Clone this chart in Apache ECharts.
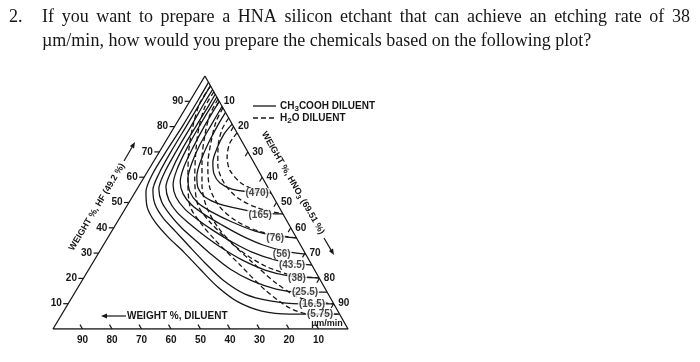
<!DOCTYPE html>
<html><head><meta charset="utf-8">
<script src="https://cdn.jsdelivr.net/npm/echarts@6/dist/echarts.min.js"></script>
<style>html,body{margin:0;padding:0;background:#fff}#c{width:700px;height:362px}</style>
</head><body><div id="c"></div>
<script>
// Ternary compositions: [HF %, HNO3 %]; diluent = 100 - HF - HNO3
const HF_TICKS = [10, 20, 30, 40, 50, 60, 70, 80, 90];
const HNO3_TICKS = [10, 20, 30, 40, 50, 60, 70, 80, 90];
const DILUENT_TICKS = [90, 80, 70, 60, 50, 40, 30, 20, 10];

const RATES = ['470', '165', '76', '56', '43.5', '38', '25.5', '16.5', '5.75'];
const RATE_LABEL_POS = [[53.8,41.5],[45.1,47.0],[36.0,56.8],[29.6,62.3],[25.3,68.0],[20.2,72.3],[14.6,77.9],[9.9,82.7],[5.9,87.5]];

// CH3COOH diluent (solid) isoetch curves
const CH3COOH_470 = [[81.0,19.0],[77.1,18.3],[71.5,18.8],[66.0,20.2],[61.3,23.0],[57.7,26.9],[55.3,32.2],[54.2,38.9],[53.8,46.2]];
const CH3COOH_165 = [[85.6,14.4],[80.6,14.4],[73.9,14.8],[66.8,15.8],[60.5,17.6],[55.7,20.5],[52.2,24.6],[49.4,31.1],[47.4,39.0],[45.8,47.2],[45.5,54.5]];
const CH3COOH_76 = [[88.0,12.0],[80.6,12.1],[72.7,12.3],[65.6,13.3],[59.7,15.0],[54.2,18.5],[49.8,23.5],[46.2,30.1],[42.3,38.9],[38.7,48.6],[36.8,56.6],[36.0,64.0]];
const CH3COOH_56 = [[90.0,10.0],[80.6,10.0],[71.9,10.5],[64.0,11.4],[58.1,13.2],[53.4,16.6],[49.0,21.8],[45.1,28.3],[41.1,36.1],[36.8,45.1],[33.2,54.1],[30.8,62.7],[29.6,70.4]];
const CH3COOH_43_5 = [[91.7,8.3],[88.5,8.3],[80.6,8.3],[71.5,8.6],[62.8,9.6],[56.9,11.4],[52.2,14.8],[47.4,20.3],[43.1,27.0],[38.7,34.7],[34.4,43.0],[30.4,51.8],[27.3,61.2],[25.7,69.9],[25.3,74.7]];
const CH3COOH_38 = [[92.8,7.2],[88.5,7.3],[80.6,7.2],[70.8,7.2],[62.1,8.0],[56.1,9.4],[51.0,13.0],[46.2,18.2],[41.5,25.0],[36.8,32.5],[32.0,40.8],[27.3,50.0],[23.3,59.9],[20.9,69.5],[20.2,79.8]];
const CH3COOH_25_5 = [[94.6,5.4],[90.5,5.3],[80.6,5.5],[70.0,5.6],[61.3,6.0],[55.3,7.4],[50.2,11.0],[45.1,16.5],[39.9,23.1],[34.8,30.6],[29.2,38.9],[23.7,47.8],[19.0,57.7],[15.8,67.5],[14.6,76.2],[14.6,85.4]];
const CH3COOH_16_5 = [[96.2,3.8],[90.5,3.9],[80.6,3.9],[70.0,3.9],[61.3,4.3],[54.9,5.6],[49.4,9.1],[43.9,14.7],[38.7,21.5],[32.8,29.2],[26.1,38.1],[19.4,47.6],[13.8,58.0],[11.1,67.9],[9.9,78.6],[9.9,90.1]];
const CH3COOH_5_75 = [[97.5,2.5],[90.5,2.6],[80.6,2.6],[70.0,2.2],[60.9,2.2],[54.2,3.6],[48.2,7.1],[42.3,12.8],[36.4,20.2],[30.4,28.7],[23.7,37.6],[16.6,47.3],[10.7,57.2],[7.1,67.1],[5.9,77.3],[5.9,94.1]];

// H2O diluent (dashed) isoetch curves
const H2O_470 = [[77.5,22.5],[73.5,22.1],[68.0,24.0],[62.8,27.6],[57.7,34.0],[54.9,40.5],[53.8,46.2]];
const H2O_165 = [[83.4,16.6],[78.7,16.7],[71.5,19.1],[64.8,22.5],[57.7,28.3],[51.8,36.0],[47.8,44.9],[45.5,54.5]];
const H2O_76 = [[87.4,12.6],[81.8,13.1],[73.9,15.5],[64.8,19.1],[55.7,24.5],[48.2,31.8],[42.3,40.9],[38.3,51.1],[36.0,64.0]];
const H2O_38 = [[90.9,9.1],[84.6,9.6],[76.7,12.0],[66.8,16.1],[56.9,21.2],[47.8,27.6],[39.1,36.5],[31.2,47.3],[24.9,59.1],[21.3,70.0],[20.2,79.8]];
const H2O_16_5 = [[93.7,6.3],[87.7,6.3],[79.8,8.4],[70.8,12.0],[59.7,17.3],[49.0,23.9],[42.3,31.4],[35.2,41.2],[26.5,53.8],[18.2,66.2],[12.3,77.4],[9.9,90.1]];
const H2O_5_75 = [[96.0,4.0],[89.3,3.8],[80.6,6.0],[70.8,9.6],[59.7,15.0],[49.0,21.1],[42.3,28.0],[35.2,36.8],[25.3,50.4],[15.4,64.0],[8.3,76.0],[5.9,84.1],[5.9,94.1]];

const TRIANGLE = [[0,0],[100,0],[0,100],[0,0]]; // diluent corner, HF apex, HNO3 corner

const QUESTION_1 = 'If you want to prepare a HNA silicon etchant that can achieve an etching rate of 38';
const QUESTION_2 = 'µm/min, how would you prepare the chemicals based on the following plot?';

// ---- drawing ----
const SKEW = 0.515;                       // horizontal position of the HF apex in the drawing
const toXY = ([hf, hno3]) => [hno3 + hf * SKEW, hf];
const INK = '#161616';
const FONT = '"Liberation Sans", Arial, sans-serif';
const SERIF = '"Liberation Serif", "Times New Roman", serif';
const ctx = document.createElement('canvas').getContext('2d');
function measure(s, font) { ctx.font = font; return ctx.measureText(s).width; }

function curve(data, dashed) {
  return { type: 'line', data: data.map(toXY), symbol: 'none', smooth: 0.3, silent: true, z: 2,
    lineStyle: { color: INK, width: 1.3, type: dashed ? [5, 3] : 'solid' } };
}
function unit(dx, dy) { const l = Math.hypot(dx, dy); return [dx / l, dy / l]; }

function ticks(values, axis) {
  return { type: 'custom', coordinateSystem: 'cartesian2d', silent: true, z: 4,
    data: values.map(v => [v, 0]),
    renderItem(params, api) {
      const v = api.value(0);
      const comp = axis === 'hf' ? [v, 0] : axis === 'hno3' ? [100 - v, v] : [0, 100 - v];
      const p = api.coord(toXY(comp));
      const A = api.coord(toXY([100, 0])), L = api.coord(toXY([0, 0])), R = api.coord(toXY([0, 100]));
      let d, t;
      if (axis === 'hf') { d = [-1, 0]; t = [p[0] - 12, p[1]]; }
      else if (axis === 'hno3') { d = unit(L[0] - A[0], L[1] - A[1]); t = [p[0] + 10, p[1]]; }
      else { d = unit(A[0] - R[0], A[1] - R[1]); t = [p[0], p[1] + 11]; }
      const len = 5;
      return { type: 'group', children: [
        { type: 'line', shape: { x1: p[0], y1: p[1], x2: p[0] + d[0] * len, y2: p[1] + d[1] * len },
          style: { stroke: INK, lineWidth: 1.2 } },
        { type: 'text', x: t[0], y: t[1],
          style: { text: String(v), fill: INK, font: 'bold 10px ' + FONT,
            textAlign: 'center', textVerticalAlign: 'middle', align: 'center', verticalAlign: 'middle' } }
      ] };
    } };
}

function arrow(x1, y1, x2, y2) {
  const d = unit(x2 - x1, y2 - y1), n = [-d[1], d[0]];
  const bx = x2 - d[0] * 6, by = y2 - d[1] * 6;
  return [
    { type: 'line', shape: { x1, y1, x2: bx, y2: by }, style: { stroke: INK, lineWidth: 1.2 } },
    { type: 'polygon', shape: { points: [[x2, y2], [bx + n[0] * 2.4, by + n[1] * 2.4], [bx - n[0] * 2.4, by - n[1] * 2.4]] },
      style: { fill: INK } }
  ];
}
function txt(x, y, text, font, align) {
  return { type: 'text', x, y, style: { text, font, fill: INK,
    textAlign: align || 'left', textVerticalAlign: 'middle' } };
}
// text with subscript parts: parts = [[string, isSub], ...]
function subText(x, y, parts, size, align, rotation) {
  const f = 'bold ' + size + 'px ' + FONT, fs = 'bold ' + Math.round(size * 0.8) + 'px ' + FONT;
  const widths = parts.map(([s, sub]) => measure(s, sub ? fs : f));
  const total = widths.reduce((a, b) => a + b, 0);
  let cx = align === 'center' ? -total / 2 : 0;
  const children = parts.map(([s, sub], i) => {
    const el = txt(cx, sub ? size * 0.3 : 0, s, sub ? fs : f);
    cx += widths[i];
    return el;
  });
  return { type: 'group', x, y, rotation: rotation || 0, children };
}
function justified(x, y, width, line, font) {
  const words = line.split(' ');
  const w = words.map(s => measure(s, font));
  const gap = (width - w.reduce((a, b) => a + b, 0)) / (words.length - 1);
  let cx = x;
  return words.map((s, i) => { const el = txt(cx, y, s, font); cx += w[i] + gap; return el; });
}

const series = [
  { type: 'line', data: TRIANGLE.map(toXY), symbol: 'none', silent: true, z: 3,
    lineStyle: { color: INK, width: 1.3 } },
  curve(CH3COOH_470), curve(CH3COOH_165), curve(CH3COOH_76), curve(CH3COOH_56), curve(CH3COOH_43_5),
  curve(CH3COOH_38), curve(CH3COOH_25_5), curve(CH3COOH_16_5), curve(CH3COOH_5_75),
  curve(H2O_470, true), curve(H2O_165, true), curve(H2O_76, true), curve(H2O_38, true),
  curve(H2O_16_5, true), curve(H2O_5_75, true),
  ticks(HF_TICKS, 'hf'), ticks(HNO3_TICKS, 'hno3'), ticks(DILUENT_TICKS, 'dil'),
  { type: 'scatter', silent: true, z: 10, symbolSize: 1, itemStyle: { color: 'rgba(0,0,0,0)' },
    data: RATES.map((r, i) => ({ name: r, value: toXY(RATE_LABEL_POS[i]) })),
    label: { show: true, position: 'inside', formatter: '({b})', fontSize: 10, fontWeight: 'bold',
      fontFamily: FONT, color: INK, backgroundColor: '#fff', padding: [0, 1] } }
];

const QFONT = '18px ' + SERIF;
const graphic = [
  txt(9, 17, '2.', QFONT),
  ...justified(42, 17, 648, QUESTION_1, QFONT),
  txt(42, 41, QUESTION_2, QFONT),
  { type: 'line', shape: { x1: 253, y1: 106, x2: 276, y2: 106 }, style: { stroke: INK, lineWidth: 1.3 } },
  { type: 'line', shape: { x1: 253, y1: 118, x2: 276, y2: 118 }, style: { stroke: INK, lineWidth: 1.3, lineDash: [5, 3] } },
  subText(280, 106, [['CH', 0], ['3', 1], ['COOH DILUENT', 0]], 10, 'left'),
  subText(280, 118, [['H', 0], ['2', 1], ['O DILUENT', 0]], 10, 'left'),
  subText(97, 207, [['WEIGHT %, HF (49.2 %)', 0]], 9, 'center', 59 * Math.PI / 180),
  ...arrow(124, 161, 135, 142),
  subText(293, 183, [['WEIGHT %, HNO', 0], ['3', 1], [' (69.51 %)', 0]], 9, 'center', -60 * Math.PI / 180),
  ...arrow(324, 238, 334, 255),
  ...arrow(126, 316, 101, 316),
  txt(127, 316, 'WEIGHT %, DILUENT', 'bold 10px ' + FONT),
  Object.assign(txt(327, 324, 'µm/min', 'bold 9px ' + FONT, 'center'), { z: 20 })
];

const chart = echarts.init(document.getElementById('c'));
chart.setOption({
  animation: false,
  backgroundColor: '#fff',
  grid: { left: 53, right: 352, top: 76, bottom: 33 },
  xAxis: { type: 'value', min: 0, max: 100, show: false },
  yAxis: { type: 'value', min: 0, max: 100, show: false },
  series,
  graphic
});
</script></body></html>
